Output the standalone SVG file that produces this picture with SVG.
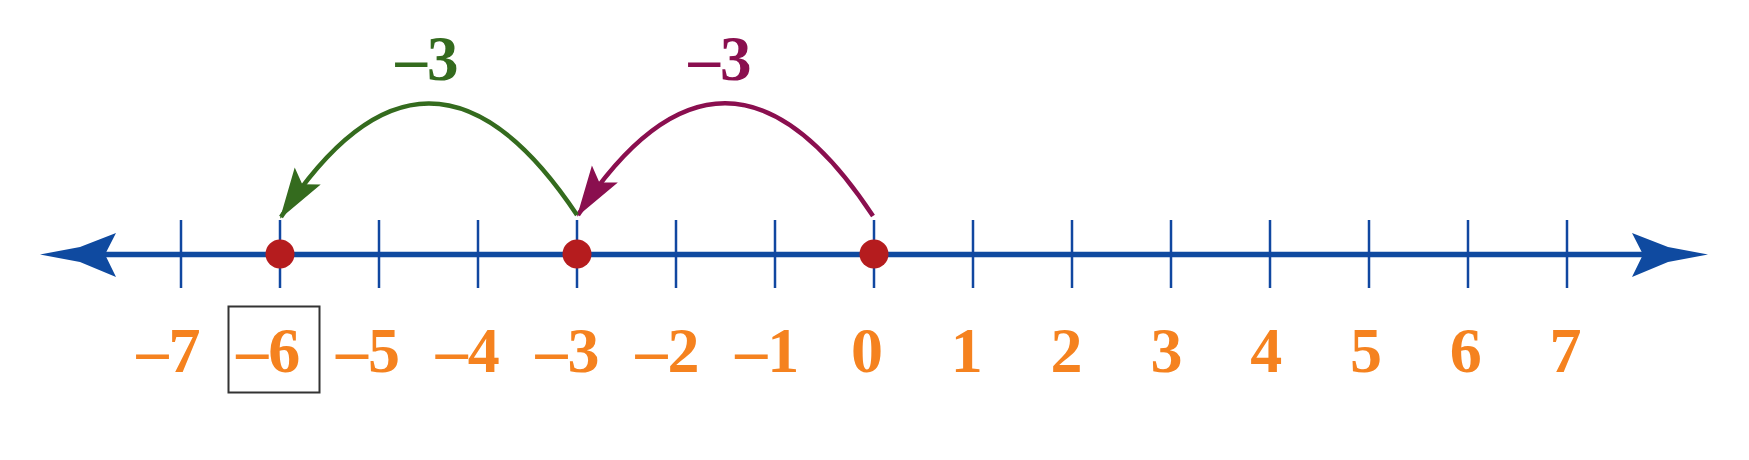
<svg xmlns="http://www.w3.org/2000/svg" width="1749" height="460" viewBox="0 0 1749 460">
<style>
.tick{stroke:#1047a0;stroke-width:2.5}
.lbl{font-family:"Liberation Serif","Times New Roman",serif;font-weight:bold;font-size:64px;fill:#f5821f;text-anchor:middle}
.top{font-family:"Liberation Serif","Times New Roman",serif;font-weight:bold;font-size:63px;text-anchor:middle}
.dot{fill:#b51c1e}
.arc{fill:none;stroke-width:4.5}
</style>
<defs>
<marker id="hg" markerUnits="userSpaceOnUse" orient="auto" refX="0" refY="0" markerWidth="60" markerHeight="40" overflow="visible">
<path d="M2,0 L-49,-15.5 L-39,0 L-49,15.5 Z" fill="#346b1e"/>
</marker>
<marker id="hp" markerUnits="userSpaceOnUse" orient="auto" refX="0" refY="0" markerWidth="60" markerHeight="40" overflow="visible">
<path d="M2,0 L-49,-15.5 L-39,0 L-49,15.5 Z" fill="#8a0f4f"/>
</marker>
</defs>
<rect width="1749" height="460" fill="#ffffff"/>
<g id="axis">
<line x1="100" y1="254.5" x2="1650" y2="254.5" stroke="#0f4aa0" stroke-width="5.5"/>
<polygon points="40,254.5 80,247 116,233 105,254.5 116,277 80,262" fill="#0f4aa0"/>
<polygon points="1708,254.5 1668,247 1632,233 1643,254.5 1632,277 1668,262" fill="#0f4aa0"/>
<g id="ticks">
<line class="tick" x1="181" y1="220" x2="181" y2="288"/>
<line class="tick" x1="280" y1="220" x2="280" y2="288"/>
<line class="tick" x1="379" y1="220" x2="379" y2="288"/>
<line class="tick" x1="478" y1="220" x2="478" y2="288"/>
<line class="tick" x1="577" y1="220" x2="577" y2="288"/>
<line class="tick" x1="676" y1="220" x2="676" y2="288"/>
<line class="tick" x1="775" y1="220" x2="775" y2="288"/>
<line class="tick" x1="874" y1="220" x2="874" y2="288"/>
<line class="tick" x1="973" y1="220" x2="973" y2="288"/>
<line class="tick" x1="1072" y1="220" x2="1072" y2="288"/>
<line class="tick" x1="1171" y1="220" x2="1171" y2="288"/>
<line class="tick" x1="1270" y1="220" x2="1270" y2="288"/>
<line class="tick" x1="1369" y1="220" x2="1369" y2="288"/>
<line class="tick" x1="1468" y1="220" x2="1468" y2="288"/>
<line class="tick" x1="1567" y1="220" x2="1567" y2="288"/>
</g>
</g>
<g id="connectors">
<path class="arc" d="M873,216 Q725,-9 578,215" stroke="#8a0f4f" marker-end="url(#hp)"/>
<path class="arc" d="M577,215 Q428,-9 281,217" stroke="#346b1e" marker-end="url(#hg)"/>
</g>
<g id="point-0"><circle class="dot" cx="874" cy="254" r="14.5"/></g>
<g id="point-minus3"><circle class="dot" cx="577" cy="254" r="14.5"/></g>
<g id="point-minus6"><circle class="dot" cx="280" cy="254" r="14.5"/></g>
<g id="jump-labels">
<text class="top" x="427" y="80" fill="#346b1e">–3</text>
<text class="top" x="720" y="80" fill="#8a0f4f">–3</text>
</g>
<g id="labels">
<text class="lbl" x="168.4" y="372">–7</text>
<text class="lbl" x="268.2" y="372">–6</text>
<text class="lbl" x="368" y="372">–5</text>
<text class="lbl" x="467.8" y="372">–4</text>
<text class="lbl" x="567.6" y="372">–3</text>
<text class="lbl" x="667.4" y="372">–2</text>
<text class="lbl" x="767.2" y="372">–1</text>
<text class="lbl" x="867" y="372">0</text>
<text class="lbl" x="966.8" y="372">1</text>
<text class="lbl" x="1066.6" y="372">2</text>
<text class="lbl" x="1166.4" y="372">3</text>
<text class="lbl" x="1266.2" y="372">4</text>
<text class="lbl" x="1366" y="372">5</text>
<text class="lbl" x="1465.8" y="372">6</text>
<text class="lbl" x="1565.6" y="372">7</text>
</g>
<g id="answer-box"><rect x="228.5" y="306.5" width="91" height="86" fill="none" stroke="#333333" stroke-width="2"/></g>
</svg>
